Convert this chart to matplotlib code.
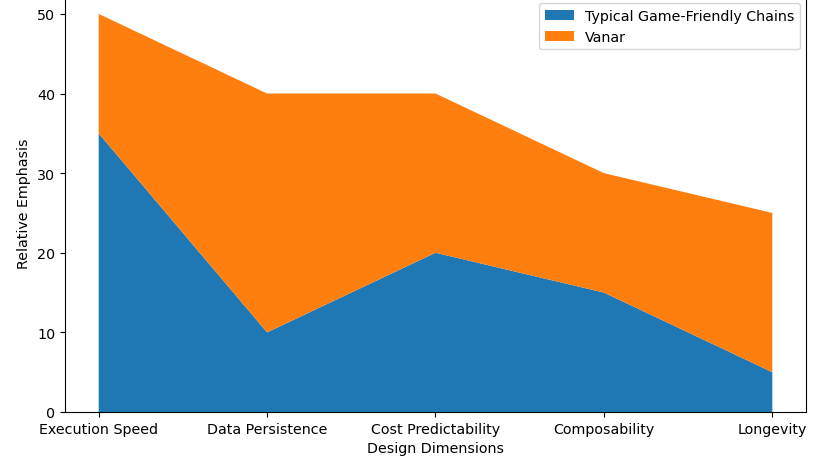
import numpy as np
import matplotlib
matplotlib.use('Agg')
import matplotlib.pyplot as plt

# design dimensions and relative emphasis per chain type
dimensions = ['Execution Speed', 'Data Persistence', 'Cost Predictability', 'Composability', 'Longevity']
typical = [35, 10, 20, 15, 5]
vanar = [15, 30, 20, 15, 20]

fig = plt.figure(figsize=(8.28, 4.64), dpi=100)
# axes top runs past the figure edge, like the cropped reference
ax = fig.add_axes([65 / 828, 51 / 464, 741 / 828, 418 / 464])

x = np.arange(len(dimensions))
ax.stackplot(x, typical, vanar, labels=['Typical Game-Friendly Chains', 'Vanar'],
             colors=['#1f77b4', '#ff7f0e'])
ax.set_xticks(x)
ax.set_xticklabels(dimensions, fontsize=10.3)
ax.tick_params(axis='y', labelsize=10.3)
ax.set_xlabel('Design Dimensions', fontsize=10.3)
ax.set_ylabel('Relative Emphasis', fontsize=10.3)
ax.legend(loc='upper right', bbox_to_anchor=(1.002, 0.996), fontsize=10.3)

fig.savefig('out.png', dpi=100)
